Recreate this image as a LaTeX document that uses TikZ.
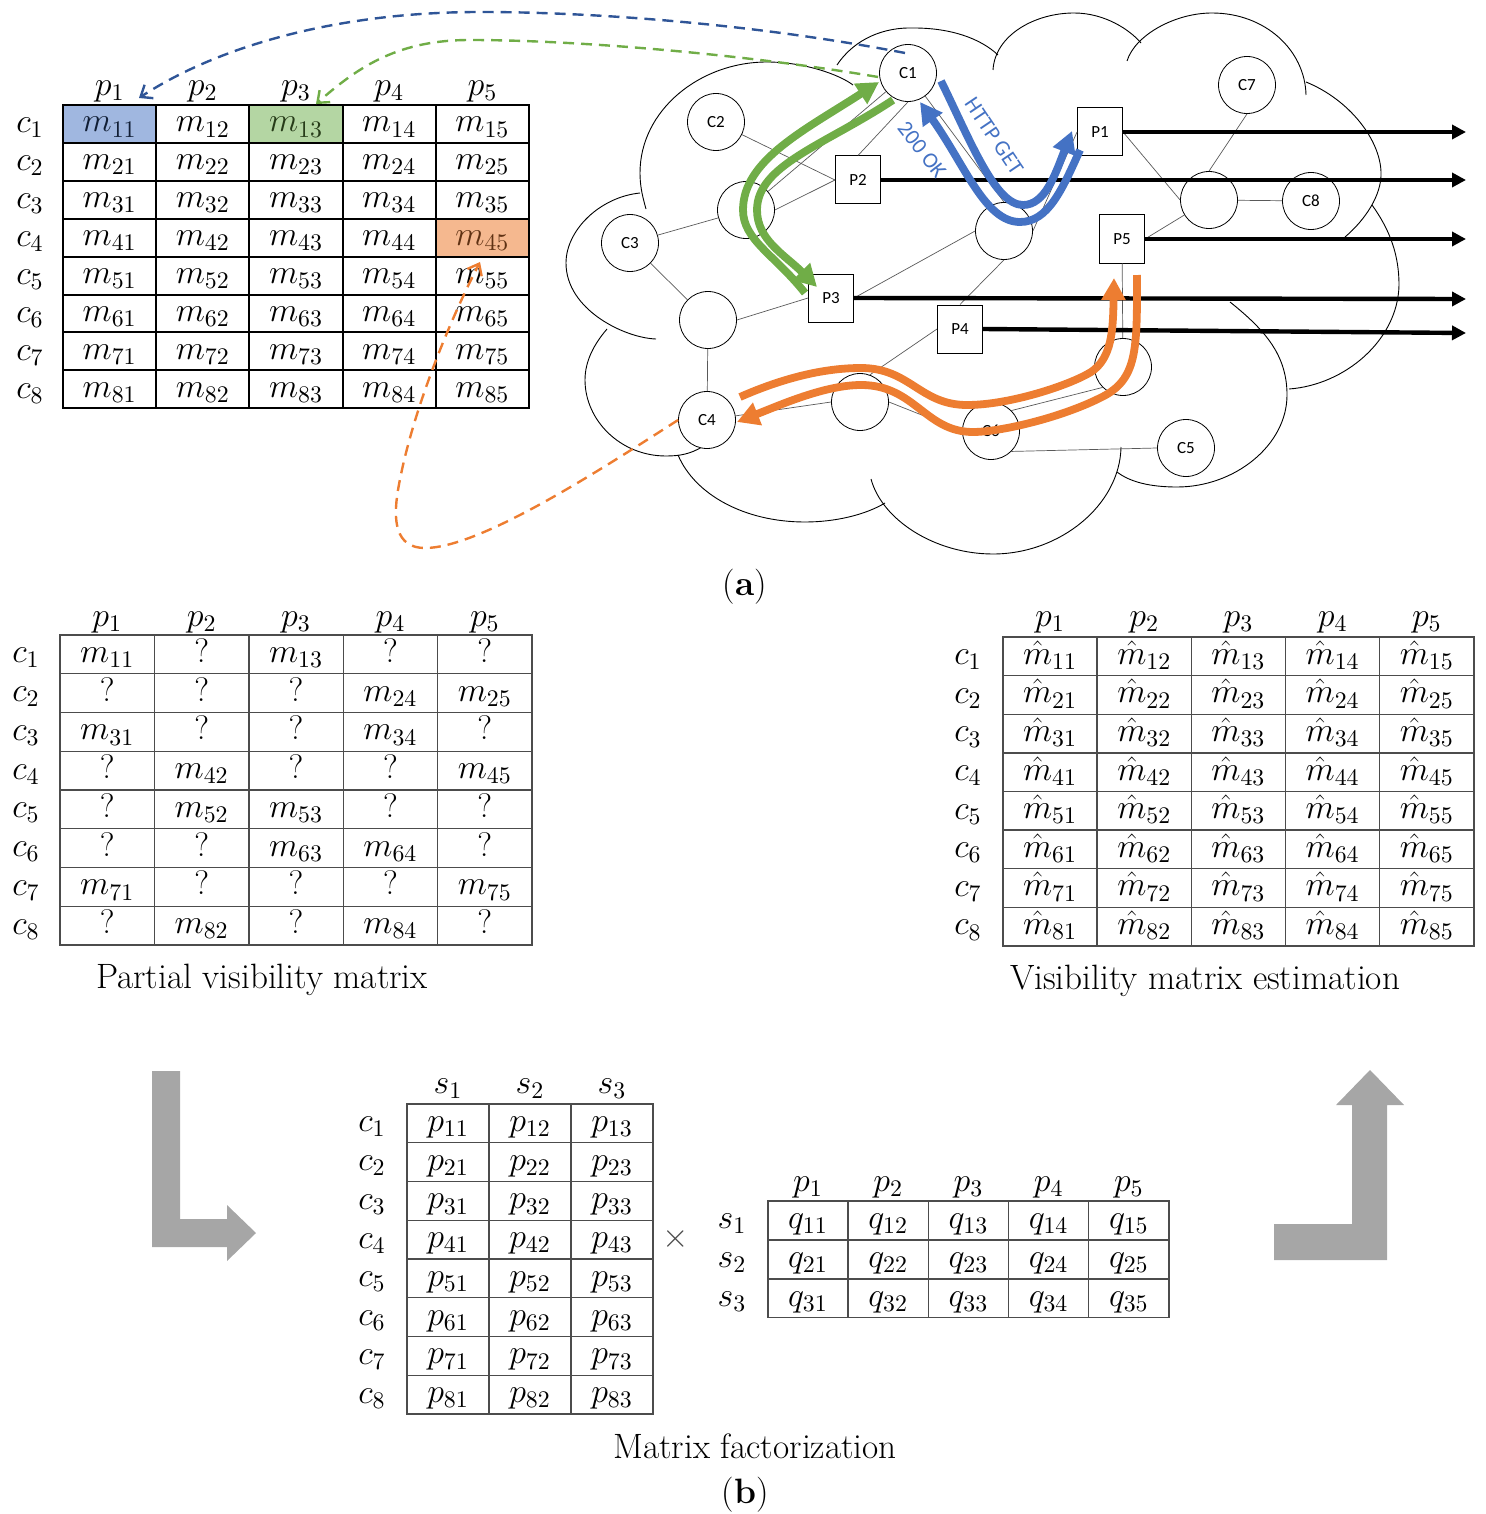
\documentclass[tikz,border=0pt]{standalone}
\usepackage{fix-cm}
\usepackage{fontspec}
\usepackage{amsmath}
\usepackage{tikz}
\usetikzlibrary{arrows.meta}

\newfontfamily\netfont{Carlito}

\definecolor{getblue}{RGB}{68,114,196}
\definecolor{dashblue}{RGB}{47,85,151}
\definecolor{flowgreen}{RGB}{112,173,71}
\definecolor{floworange}{RGB}{237,125,49}
\definecolor{cellblue}{RGB}{160,183,224}
\definecolor{cellgreen}{RGB}{180,214,163}
\definecolor{cellorange}{RGB}{245,184,143}
\definecolor{bigarrow}{RGB}{166,166,166}

\tikzset{
  mathtext/.style={font=\fontsize{17}{20}\selectfont},
  capt/.style={font=\fontsize{17.6}{20}\selectfont},
  cellbox/.style={mathtext, draw=black, line width=1pt, minimum width=46.6pt, minimum height=18.95pt, inner sep=0pt, text height=10pt, text depth=2pt},
  plainbox/.style={mathtext, draw=black!70, line width=.7pt, inner sep=0pt, text height=10pt, text depth=2pt},
  client/.style={circle, draw=black, fill=white, line width=.4pt, minimum size=28.5pt, inner sep=0pt, font=\netfont\fontsize{8.5}{10}\selectfont},
  server/.style={rectangle, draw=black, fill=white, line width=.5pt, minimum width=22.5pt, minimum height=24pt, inner sep=0pt, font=\netfont\fontsize{8.5}{10}\selectfont},
  cloudline/.style={draw=black, line width=.45pt},
  thinlink/.style={draw=black!65, line width=.35pt},
  outlink/.style={draw=black, line width=2.2pt, -{Triangle[length=7pt,width=7pt]}},
  flow/.style={line width=3.9pt, -{Triangle[length=11pt,width=11.5pt]}},
  lookup/.style={line width=1.2pt, dash pattern=on 5.5pt off 3.5pt, -{Straight Barb[length=5pt,width=8pt]}},
  flowlabel/.style={text=getblue, font=\netfont\fontsize{11}{13}\selectfont},
}

\begin{document}
\begin{tikzpicture}[x=.5pt,y=-.5pt]
  \useasboundingbox (0,0) rectangle (1486,1514);

  % visibility matrix on top
  \foreach \k in {1,...,5}
    \node[mathtext] (tp\k) at ({109.6+93.2*(\k-1)},91) {$p_{\k}$};
  \foreach \r in {1,...,8} {
    \node[mathtext] (tc\r) at (30,{128+37.9*(\r-1)}) {$c_{\r}$};
    \foreach \k in {1,...,5}
      \node[cellbox] (T-\r-\k) at ({109.6+93.2*(\k-1)},{124+37.9*(\r-1)}) {$m_{\r\k}$};
  }
  \node[cellbox, fill=cellblue, text=black!65!dashblue] (T-1-1) at (109.6,124) {$m_{11}$};
  \node[cellbox, fill=cellgreen, text=black!65!flowgreen] (T-1-3) at (296,124) {$m_{13}$};
  \node[cellbox, fill=cellorange, text=black!60!floworange] (T-4-5) at (482.4,237.7) {$m_{45}$};

  % cloud
  \draw[cloudline] (837,65) .. controls (855,38) and (885,27) .. (914,28) .. controls (950,28) and (980,38) .. (998,55);
  \draw[cloudline] (993,70) .. controls (995,35) and (1035,13) .. (1074,13) .. controls (1105,13) and (1130,30) .. (1141,43);
  \draw[cloudline] (1127,61) .. controls (1135,35) and (1175,13) .. (1212,13) .. controls (1265,13) and (1305,50) .. (1306,95);
  \draw[cloudline] (1306,82) .. controls (1350,100) and (1380,140) .. (1381,172) .. controls (1382,195) and (1365,220) .. (1345,237);
  \draw[cloudline] (1372,205) .. controls (1390,230) and (1399,255) .. (1399,285) .. controls (1398,340) and (1345,385) .. (1289,389);
  \draw[cloudline] (1230,302) .. controls (1265,330) and (1287,355) .. (1287,395) .. controls (1287,445) and (1235,487) .. (1177,487) .. controls (1150,487) and (1130,482) .. (1117,472);
  \draw[cloudline] (1121,447) .. controls (1120,505) and (1060,554) .. (993,554) .. controls (935,554) and (882,520) .. (871,479);
  \draw[cloudline] (885,503) .. controls (865,515) and (835,522) .. (805,522) .. controls (745,522) and (695,495) .. (678,455);
  \draw[cloudline] (702,447) .. controls (690,454) and (680,456) .. (666,456) .. controls (620,456) and (585,420) .. (585,380) .. controls (585,360) and (595,343) .. (607,329);
  \draw[cloudline] (656,339) .. controls (625,338) and (566,310) .. (566,263) .. controls (566,230) and (600,197) .. (640,193);
  \draw[cloudline] (646,209) .. controls (642,195) and (640,185) .. (640,173) .. controls (640,110) and (700,62) .. (767,62) .. controls (805,62) and (840,75) .. (853,85);

  % clients and routers
  \node[client] (C1) at (908,73) {C1};
  \node[client] (C2) at (716,122) {C2};
  \node[client] (C3) at (630,243) {C3};
  \node[client] (C4) at (707,420) {C4};
  \node[client] (C5) at (1186,448) {C5};
  \node[client] (C6) at (991,431) {C6};
  \node[client] (C7) at (1247,85) {C7};
  \node[client] (C8) at (1311,201) {C8};
  \node[client] (R1) at (746,210) {};
  \node[client] (R2) at (1004,231) {};
  \node[client] (R3) at (1209,200) {};
  \node[client] (R4) at (708,320) {};
  \node[client] (R5) at (860,402) {};
  \node[client] (R6) at (1123,367) {};

  % content servers
  \node[server] (P1) at (1100,132) {P1};
  \node[server] (P2) at (858,180) {P2};
  \node[server] (P3) at (831,298) {P3};
  \node[server] (P4) at (960,329) {P4};
  \node[server] (P5) at (1122,239) {P5};

  \draw[thinlink] (C1.south) -- (P2.north);
  \draw[thinlink] (C1) -- (R1);
  \draw[thinlink] (C1) -- (R2.north);
  \draw[thinlink] (C2) -- (P2.west);
  \draw[thinlink] (R1.east) -- (P2.west);
  \draw[thinlink] (C3) -- (R1);
  \draw[thinlink] (C3) -- (R4);
  \draw[thinlink] (R2.west) -- (P3.east);
  \draw[thinlink] (R2.south) -- (P4.north);
  \draw[thinlink] (R2.east) -- (P1.west);
  \draw[thinlink] (P1.east) -- (R3.west);
  \draw[thinlink] (C7.south) -- (R3.north);
  \draw[thinlink] (R3) -- (C8);
  \draw[thinlink] (R3) -- (P5.east);
  \draw[thinlink] (P5) -- (R6);
  \draw[thinlink] (R4.east) -- (P3.west);
  \draw[thinlink] (R4) -- (C4);
  \draw[thinlink] (C4) -- (R5.west);
  \draw[thinlink] (R5.70) -- (P4.west);
  \draw[thinlink] (R5.east) -- (C6.west);
  \draw[thinlink] (C6.north east) -- (R6.south west);
  \draw[thinlink] (C6.south east) -- (C5.west);

  \coordinate (E1) at (1466,132);
  \coordinate (E2) at (1466,180);
  \coordinate (E3) at (1466,299);
  \coordinate (E4) at (1466,333);
  \coordinate (E5) at (1466,239);
  \draw[outlink] (P1.east) -- (E1);
  \draw[outlink] (P2.east) -- (E2);
  \draw[outlink] (P3.east) -- (E3);
  \draw[outlink] (P4.east) -- (E4);
  \draw[outlink] (P5.east) -- (E5);

  % request and answer paths
  \draw[flow, flowgreen] (805,293) .. controls (775,255) and (743,240) .. (743,210) .. controls (743,160) and (805,130) .. (879,82);
  \draw[flow, flowgreen] (893,100) .. controls (825,145) and (757,165) .. (757,210) .. controls (757,240) and (785,255) .. (817,287);
  \draw[flow, getblue] (941,81) .. controls (970,140) and (995,205) .. (1023,205) .. controls (1045,205) and (1055,175) .. (1072,131);
  \draw[flow, getblue] (1080,150) .. controls (1062,190) and (1048,222) .. (1020,222) .. controls (985,222) and (965,165) .. (920,102);
  \draw[flow, floworange] (1137,275) .. controls (1137,350) and (1138,380) .. (1100,398) .. controls (1060,418) and (1000,432) .. (973,432) .. controls (925,432) and (915,385) .. (861,385) .. controls (825,385) and (780,405) .. (737,422);
  \draw[flow, floworange] (740,397) .. controls (790,375) and (830,368) .. (861,368) .. controls (910,368) and (920,405) .. (967,405) .. controls (1010,405) and (1070,385) .. (1091,372) .. controls (1112,358) and (1113,330) .. (1114,278);
  \node[flowlabel, rotate=-56] (httpget) at (994,136) {HTTP GET};
  \node[flowlabel, rotate=-52] (okay) at (922,150) {200 OK};

  \coordinate (bluestart) at (905,53);
  \coordinate (greenstart) at (878,77);
  \coordinate (blueend) at (139,98);
  \coordinate (orangeend) at (480,262);
  \draw[lookup, dashblue] (bluestart) .. controls (760,25) and (600,12) .. (480,12) .. controls (340,12) and (220,45) .. (blueend);
  \draw[lookup, flowgreen] (greenstart) .. controls (750,55) and (580,40) .. (470,40) .. controls (400,40) and (360,65) .. ([xshift=10pt]T-1-3.north);
  \draw[lookup, floworange] (C4.west) .. controls (600,470) and (480,548) .. (425,548) .. controls (395,548) and (393,520) .. (398,490) .. controls (410,420) and (445,330) .. (orangeend);

  \node[capt] (labela) at (745,587) {(\textbf{a})};

  % partial matrix
  \foreach \k in {1,...,5}
    \node[mathtext] (ap\k) at ({107.2+94.4*(\k-1)},622) {$p_{\k}$};
  \foreach \row [count=\r] in {
      {m_{11},?,m_{13},?,?},
      {?,?,?,m_{24},m_{25}},
      {m_{31},?,?,m_{34},?},
      {?,m_{42},?,?,m_{45}},
      {?,m_{52},m_{53},?,?},
      {?,?,m_{63},m_{64},?},
      {m_{71},?,?,?,m_{75}},
      {?,m_{82},?,m_{84},?}} {
    \node[mathtext] (ac\r) at (26,{658+38.75*(\r-1)}) {$c_{\r}$};
    \foreach \val [count=\k] in \row
      \node[plainbox, minimum width=47.2pt, minimum height=19.37pt] (A-\r-\k) at ({107.2+94.4*(\k-1)},{654.4+38.75*(\r-1)}) {$\val$};
  }
  \node[capt] (capa) at (262,980) {Partial visibility matrix};

  % estimated matrix
  \foreach \k in {1,...,5}
    \node[mathtext] (bp\k) at ({1050+94.2*(\k-1)},622) {$p_{\k}$};
  \foreach \r in {1,...,8} {
    \node[mathtext] (bc\r) at (968,{660+38.6*(\r-1)}) {$c_{\r}$};
    \foreach \k in {1,...,5}
      \node[plainbox, minimum width=47.1pt, minimum height=19.3pt] (B-\r-\k) at ({1050+94.2*(\k-1)},{656.3+38.6*(\r-1)}) {$\hat{m}_{\r\k}$};
  }
  \node[capt] (capb) at (1205,981) {Visibility matrix estimation};

  % factors
  \foreach \k in {1,2,3}
    \node[mathtext] (ps\k) at ({448+82*(\k-1)},1089) {$s_{\k}$};
  \foreach \r in {1,...,8} {
    \node[mathtext] (pc\r) at (372,{1127+38.75*(\r-1)}) {$c_{\r}$};
    \foreach \k in {1,2,3}
      \node[plainbox, minimum width=41pt, minimum height=19.37pt] (P-\r-\k) at ({448+82*(\k-1)},{1123.4+38.75*(\r-1)}) {$p_{\r\k}$};
  }
  \node[mathtext, text=black!70] (times) at (676,1239) {$\times$};
  \foreach \k in {1,...,5}
    \node[mathtext] (qp\k) at ({808+80.2*(\k-1)},1187) {$p_{\k}$};
  \foreach \r in {1,2,3} {
    \node[mathtext] (qs\r) at (732,{1224+38.9*(\r-1)}) {$s_{\r}$};
    \foreach \k in {1,...,5}
      \node[plainbox, minimum width=40.1pt, minimum height=19.45pt] (Q-\r-\k) at ({808+80.2*(\k-1)},{1220.5+38.9*(\r-1)}) {$q_{\r\k}$};
  }
  \node[capt] (capc) at (755,1446) {Matrix factorization};

  \fill[bigarrow] (152,1071) -- (180,1071) -- (180,1219) -- (227,1219) -- (227,1205) -- (256,1233) -- (227,1261) -- (227,1247) -- (152,1247) -- cycle;
  \fill[bigarrow] (1274,1224) -- (1352,1224) -- (1352,1105) -- (1336,1105) -- (1370,1070) -- (1404,1105) -- (1387,1105) -- (1387,1260) -- (1274,1260) -- cycle;

  \node[capt] (labelb) at (745,1495) {(\textbf{b})};
\end{tikzpicture}
\end{document}
